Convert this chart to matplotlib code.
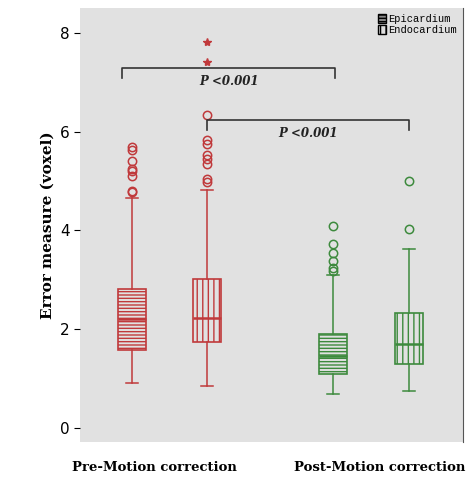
import matplotlib
matplotlib.use("Agg")
import matplotlib.pyplot as plt
from matplotlib.patches import Patch

positions = [1, 2, 3.68, 4.69]
colors = ["#c0393b", "#c0393b", "#3d8a3d", "#3d8a3d"]
hatches = ["-----", "|||", "-----", "|||"]
q1 = [1.58, 1.75, 1.10, 1.30]
med = [2.20, 2.22, 1.45, 1.70]
q3 = [2.82, 3.02, 1.90, 2.33]
whislo = [0.92, 0.85, 0.70, 0.75]
whishi = [4.65, 4.82, 3.10, 3.63]
fliers = [
    [4.78, 4.80, 5.10, 5.20, 5.25, 5.40, 5.62, 5.68],
    [4.98, 5.05, 5.35, 5.45, 5.52, 5.75, 5.83, 6.33],
    [3.18, 3.25, 3.38, 3.55, 3.72, 4.08],
    [4.03, 5.00],
]
extremes = [7.40, 7.82]  # star outliers on box 2
BG = "#e1e1e1"

fig = plt.figure(figsize=(4.74, 4.78), dpi=100, facecolor="white")
ax = fig.add_axes([80 / 474, 36 / 478, 383 / 474, 434 / 478])
ax.set_facecolor(BG)

for i in range(4):
    c = colors[i]
    st = dict(q1=q1[i], med=med[i], q3=q3[i], whislo=whislo[i], whishi=whishi[i], fliers=[])
    ax.bxp([st], positions=[positions[i]], widths=0.38, patch_artist=True,
           boxprops=dict(facecolor="none", edgecolor=c, hatch=hatches[i], linewidth=1.2),
           medianprops=dict(color=c, linewidth=1.8),
           whiskerprops=dict(color=c, linewidth=1.1), capprops=dict(color=c, linewidth=1.1),
           capwidths=0.16)
    ax.plot([positions[i]] * len(fliers[i]), fliers[i], "o", mfc="none", mec=c, ms=6, mew=1.1)
ax.plot([positions[1]] * 2, extremes, "*", color=colors[1], ms=6)


# significance brackets
def bracket(x0, x1, y, h, txt, ty):
    ax.plot([x0, x0, x1, x1], [y - h, y, y, y - h], color="#333333", lw=1.2)
    ax.text((x0 + x1) / 2, ty, txt, ha="center", va="center", fontsize=8.5,
            style="italic", fontweight="bold", family="DejaVu Serif", color="#222222")


bracket(0.87, 3.71, 7.29, 0.2, "P <0.001", 7.02)
bracket(2.0, 4.69, 6.24, 0.2, "P <0.001", 5.97)

ax.set_xlim(0.307, 5.41)
ax.set_ylim(-0.28, 8.5)
ax.set_yticks([0, 2, 4, 6, 8])
ax.set_xticks([1.3, 4.3])
ax.set_xticklabels(["Pre-Motion correction", "Post-Motion correction"],
                   fontsize=9.5, fontweight="bold", family="DejaVu Serif")
ax.tick_params(axis="x", length=0, pad=14)
ax.tick_params(axis="y", labelsize=11, length=4)
ax.set_ylabel("Error measure (voxel)", fontsize=11, fontweight="bold", family="DejaVu Serif")
for s in ["top", "left", "bottom"]:
    ax.spines[s].set_visible(False)
ax.spines["right"].set_color("#555555")

handles = [Patch(facecolor="#888888", edgecolor="black", hatch="-----", label="Epicardium"),
           Patch(facecolor="#dddddd", edgecolor="black", hatch="|||", label="Endocardium")]
ax.legend(handles=handles, loc="upper right", frameon=False,
          prop={"family": "Liberation Mono", "size": 7.5},
          handlelength=0.8, handleheight=0.9, handletextpad=0.2, borderaxespad=0.2, labelspacing=0.1)

fig.savefig("out.png", dpi=100, facecolor="white")
